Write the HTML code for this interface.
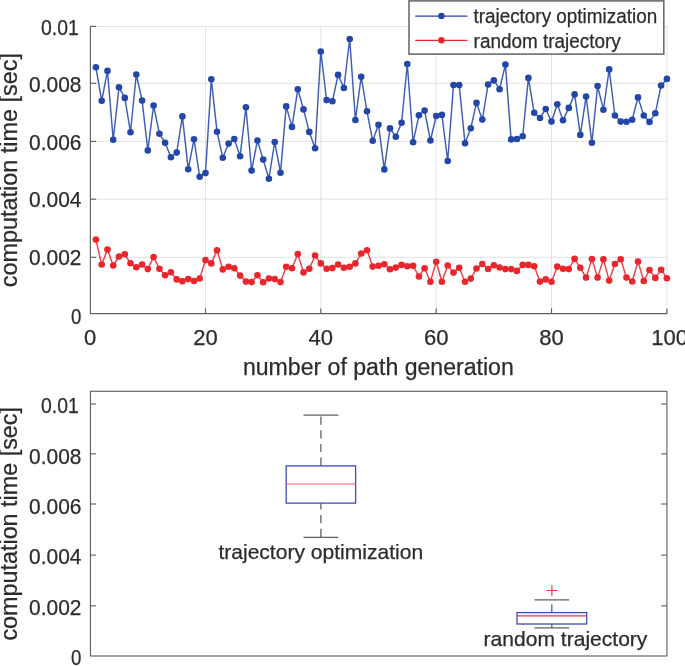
<!DOCTYPE html>
<html><head><meta charset="utf-8"><title>computation time</title>
<style>
html,body{margin:0;padding:0;background:#fff;}
body{width:685px;height:666px;overflow:hidden;}
svg{display:block;}
text{font-family:"Liberation Sans",Arial,Helvetica,sans-serif;fill:#2c2c2c;stroke:#2c2c2c;stroke-width:0.25px;}
</style></head><body>
<svg width="685" height="666" viewBox="0 0 685 666">
<rect width="685" height="666" fill="#fff"/>
<g stroke="#e2e2e2" stroke-width="1"><line x1="90.4" y1="257.3" x2="666.9" y2="257.3"/><line x1="90.4" y1="199.2" x2="666.9" y2="199.2"/><line x1="90.4" y1="141.4" x2="666.9" y2="141.4"/><line x1="90.4" y1="83.3" x2="666.9" y2="83.3"/><line x1="90.4" y1="26.4" x2="666.9" y2="26.4"/><line x1="205.5" y1="26.4" x2="205.5" y2="313.6"/><line x1="320.8" y1="26.4" x2="320.8" y2="313.6"/><line x1="436.2" y1="26.4" x2="436.2" y2="313.6"/><line x1="551.5" y1="26.4" x2="551.5" y2="313.6"/><line x1="666.9" y1="26.4" x2="666.9" y2="313.6"/></g>
<g stroke="#626262" stroke-width="1.15" fill="none"><path d="M90.4 25.9 V313.6 H667.4"/><line x1="90.4" y1="257.3" x2="96.2" y2="257.3"/><line x1="90.4" y1="199.2" x2="96.2" y2="199.2"/><line x1="90.4" y1="141.4" x2="96.2" y2="141.4"/><line x1="90.4" y1="83.3" x2="96.2" y2="83.3"/><line x1="90.4" y1="26.4" x2="96.2" y2="26.4"/><line x1="205.5" y1="313.6" x2="205.5" y2="308.4"/><line x1="320.8" y1="313.6" x2="320.8" y2="308.4"/><line x1="436.2" y1="313.6" x2="436.2" y2="308.4"/><line x1="551.5" y1="313.6" x2="551.5" y2="308.4"/><line x1="666.9" y1="313.6" x2="666.9" y2="308.4"/></g>
<polyline fill="none" stroke="#2347a9" stroke-width="1.45" stroke-opacity="0.88" stroke-linejoin="round" points="95.9,67.3 101.7,100.8 107.5,70.9 113.2,139.8 119.0,87.3 124.8,97.9 130.5,132.3 136.3,74.5 142.1,100.6 147.8,150.4 153.6,105.5 159.4,133.7 165.1,142.7 170.9,157.3 176.7,152.6 182.4,116.4 188.2,169.3 194.0,139.3 199.7,176.7 205.5,173.1 211.3,79.2 217.0,131.7 222.8,157.8 228.6,143.6 234.3,139.1 240.1,156.2 245.9,107.3 251.6,170.6 257.4,140.5 263.2,159.6 268.9,178.7 274.7,142.0 280.5,172.7 286.2,106.4 292.0,126.9 297.8,89.3 303.5,109.4 309.3,131.9 315.1,148.3 320.8,51.5 326.6,100.1 332.4,101.3 338.1,74.9 343.9,88.0 349.7,39.0 355.4,120.0 361.2,76.7 367.0,111.3 372.7,140.8 378.5,124.8 384.3,169.4 390.0,128.4 395.8,136.7 401.6,122.7 407.3,64.0 413.1,142.3 418.9,115.3 424.6,110.6 430.4,140.5 436.2,116.0 441.9,114.9 447.7,161.0 453.5,85.1 459.2,85.1 465.0,143.2 470.8,128.2 476.5,102.9 482.3,119.6 488.1,84.5 493.8,80.4 499.6,89.2 505.4,64.6 511.1,139.4 516.9,139.0 522.7,136.3 528.4,77.9 534.2,112.8 540.0,118.0 545.7,109.0 551.5,121.6 557.3,104.3 563.0,120.3 568.8,107.9 574.6,94.4 580.3,134.9 586.1,96.6 591.9,142.8 597.6,86.0 603.4,109.7 609.2,69.4 614.9,115.5 620.7,121.6 626.5,121.8 632.2,119.8 638.0,97.4 643.8,115.5 649.5,121.9 655.3,113.3 661.1,85.5 666.9,78.9"/>
<g fill="#2347a9"><circle cx="95.9" cy="67.3" r="3.3"/><circle cx="101.7" cy="100.8" r="3.3"/><circle cx="107.5" cy="70.9" r="3.3"/><circle cx="113.2" cy="139.8" r="3.3"/><circle cx="119.0" cy="87.3" r="3.3"/><circle cx="124.8" cy="97.9" r="3.3"/><circle cx="130.5" cy="132.3" r="3.3"/><circle cx="136.3" cy="74.5" r="3.3"/><circle cx="142.1" cy="100.6" r="3.3"/><circle cx="147.8" cy="150.4" r="3.3"/><circle cx="153.6" cy="105.5" r="3.3"/><circle cx="159.4" cy="133.7" r="3.3"/><circle cx="165.1" cy="142.7" r="3.3"/><circle cx="170.9" cy="157.3" r="3.3"/><circle cx="176.7" cy="152.6" r="3.3"/><circle cx="182.4" cy="116.4" r="3.3"/><circle cx="188.2" cy="169.3" r="3.3"/><circle cx="194.0" cy="139.3" r="3.3"/><circle cx="199.7" cy="176.7" r="3.3"/><circle cx="205.5" cy="173.1" r="3.3"/><circle cx="211.3" cy="79.2" r="3.3"/><circle cx="217.0" cy="131.7" r="3.3"/><circle cx="222.8" cy="157.8" r="3.3"/><circle cx="228.6" cy="143.6" r="3.3"/><circle cx="234.3" cy="139.1" r="3.3"/><circle cx="240.1" cy="156.2" r="3.3"/><circle cx="245.9" cy="107.3" r="3.3"/><circle cx="251.6" cy="170.6" r="3.3"/><circle cx="257.4" cy="140.5" r="3.3"/><circle cx="263.2" cy="159.6" r="3.3"/><circle cx="268.9" cy="178.7" r="3.3"/><circle cx="274.7" cy="142.0" r="3.3"/><circle cx="280.5" cy="172.7" r="3.3"/><circle cx="286.2" cy="106.4" r="3.3"/><circle cx="292.0" cy="126.9" r="3.3"/><circle cx="297.8" cy="89.3" r="3.3"/><circle cx="303.5" cy="109.4" r="3.3"/><circle cx="309.3" cy="131.9" r="3.3"/><circle cx="315.1" cy="148.3" r="3.3"/><circle cx="320.8" cy="51.5" r="3.3"/><circle cx="326.6" cy="100.1" r="3.3"/><circle cx="332.4" cy="101.3" r="3.3"/><circle cx="338.1" cy="74.9" r="3.3"/><circle cx="343.9" cy="88.0" r="3.3"/><circle cx="349.7" cy="39.0" r="3.3"/><circle cx="355.4" cy="120.0" r="3.3"/><circle cx="361.2" cy="76.7" r="3.3"/><circle cx="367.0" cy="111.3" r="3.3"/><circle cx="372.7" cy="140.8" r="3.3"/><circle cx="378.5" cy="124.8" r="3.3"/><circle cx="384.3" cy="169.4" r="3.3"/><circle cx="390.0" cy="128.4" r="3.3"/><circle cx="395.8" cy="136.7" r="3.3"/><circle cx="401.6" cy="122.7" r="3.3"/><circle cx="407.3" cy="64.0" r="3.3"/><circle cx="413.1" cy="142.3" r="3.3"/><circle cx="418.9" cy="115.3" r="3.3"/><circle cx="424.6" cy="110.6" r="3.3"/><circle cx="430.4" cy="140.5" r="3.3"/><circle cx="436.2" cy="116.0" r="3.3"/><circle cx="441.9" cy="114.9" r="3.3"/><circle cx="447.7" cy="161.0" r="3.3"/><circle cx="453.5" cy="85.1" r="3.3"/><circle cx="459.2" cy="85.1" r="3.3"/><circle cx="465.0" cy="143.2" r="3.3"/><circle cx="470.8" cy="128.2" r="3.3"/><circle cx="476.5" cy="102.9" r="3.3"/><circle cx="482.3" cy="119.6" r="3.3"/><circle cx="488.1" cy="84.5" r="3.3"/><circle cx="493.8" cy="80.4" r="3.3"/><circle cx="499.6" cy="89.2" r="3.3"/><circle cx="505.4" cy="64.6" r="3.3"/><circle cx="511.1" cy="139.4" r="3.3"/><circle cx="516.9" cy="139.0" r="3.3"/><circle cx="522.7" cy="136.3" r="3.3"/><circle cx="528.4" cy="77.9" r="3.3"/><circle cx="534.2" cy="112.8" r="3.3"/><circle cx="540.0" cy="118.0" r="3.3"/><circle cx="545.7" cy="109.0" r="3.3"/><circle cx="551.5" cy="121.6" r="3.3"/><circle cx="557.3" cy="104.3" r="3.3"/><circle cx="563.0" cy="120.3" r="3.3"/><circle cx="568.8" cy="107.9" r="3.3"/><circle cx="574.6" cy="94.4" r="3.3"/><circle cx="580.3" cy="134.9" r="3.3"/><circle cx="586.1" cy="96.6" r="3.3"/><circle cx="591.9" cy="142.8" r="3.3"/><circle cx="597.6" cy="86.0" r="3.3"/><circle cx="603.4" cy="109.7" r="3.3"/><circle cx="609.2" cy="69.4" r="3.3"/><circle cx="614.9" cy="115.5" r="3.3"/><circle cx="620.7" cy="121.6" r="3.3"/><circle cx="626.5" cy="121.8" r="3.3"/><circle cx="632.2" cy="119.8" r="3.3"/><circle cx="638.0" cy="97.4" r="3.3"/><circle cx="643.8" cy="115.5" r="3.3"/><circle cx="649.5" cy="121.9" r="3.3"/><circle cx="655.3" cy="113.3" r="3.3"/><circle cx="661.1" cy="85.5" r="3.3"/><circle cx="666.9" cy="78.9" r="3.3"/></g>
<polyline fill="none" stroke="#ea252c" stroke-width="1.45" stroke-opacity="0.88" stroke-linejoin="round" points="95.9,239.6 101.7,264.5 107.5,249.5 113.2,265.5 119.0,256.5 124.8,254.3 130.5,263.3 136.3,267.2 142.1,264.5 147.8,269.1 153.6,257.1 159.4,268.8 165.1,275.2 170.9,272.2 176.7,279.4 182.4,281.3 188.2,279.1 194.0,281.0 199.7,278.5 205.5,260.1 211.3,263.4 217.0,250.2 222.8,269.4 228.6,266.7 234.3,268.2 240.1,275.6 245.9,281.6 251.6,282.1 257.4,275.3 263.2,282.2 268.9,278.5 274.7,279.1 280.5,282.1 286.2,266.7 292.0,268.2 297.8,254.0 303.5,272.4 309.3,268.7 315.1,255.5 320.8,263.4 326.6,268.7 332.4,268.1 338.1,264.5 343.9,267.8 349.7,266.7 355.4,263.4 361.2,253.5 367.0,250.2 372.7,266.6 378.5,265.8 384.3,264.3 390.0,269.3 395.8,267.6 401.6,264.9 407.3,266.3 413.1,265.7 418.9,276.5 424.6,268.2 430.4,281.8 436.2,261.8 441.9,281.7 447.7,265.5 453.5,272.6 459.2,267.8 465.0,281.8 470.8,278.6 476.5,268.5 482.3,264.0 488.1,269.0 493.8,265.2 499.6,267.5 505.4,269.1 511.1,269.1 516.9,270.9 522.7,264.9 528.4,264.9 534.2,266.3 540.0,281.6 545.7,279.4 551.5,281.8 557.3,266.6 563.0,268.8 568.8,269.1 574.6,258.9 580.3,267.8 586.1,277.6 591.9,259.1 597.6,277.6 603.4,259.2 609.2,280.6 614.9,264.0 620.7,259.3 626.5,277.6 632.2,281.5 638.0,261.5 643.8,281.0 649.5,270.0 655.3,277.9 661.1,269.7 666.9,278.2"/>
<g fill="#ea252c"><circle cx="95.9" cy="239.6" r="3.3"/><circle cx="101.7" cy="264.5" r="3.3"/><circle cx="107.5" cy="249.5" r="3.3"/><circle cx="113.2" cy="265.5" r="3.3"/><circle cx="119.0" cy="256.5" r="3.3"/><circle cx="124.8" cy="254.3" r="3.3"/><circle cx="130.5" cy="263.3" r="3.3"/><circle cx="136.3" cy="267.2" r="3.3"/><circle cx="142.1" cy="264.5" r="3.3"/><circle cx="147.8" cy="269.1" r="3.3"/><circle cx="153.6" cy="257.1" r="3.3"/><circle cx="159.4" cy="268.8" r="3.3"/><circle cx="165.1" cy="275.2" r="3.3"/><circle cx="170.9" cy="272.2" r="3.3"/><circle cx="176.7" cy="279.4" r="3.3"/><circle cx="182.4" cy="281.3" r="3.3"/><circle cx="188.2" cy="279.1" r="3.3"/><circle cx="194.0" cy="281.0" r="3.3"/><circle cx="199.7" cy="278.5" r="3.3"/><circle cx="205.5" cy="260.1" r="3.3"/><circle cx="211.3" cy="263.4" r="3.3"/><circle cx="217.0" cy="250.2" r="3.3"/><circle cx="222.8" cy="269.4" r="3.3"/><circle cx="228.6" cy="266.7" r="3.3"/><circle cx="234.3" cy="268.2" r="3.3"/><circle cx="240.1" cy="275.6" r="3.3"/><circle cx="245.9" cy="281.6" r="3.3"/><circle cx="251.6" cy="282.1" r="3.3"/><circle cx="257.4" cy="275.3" r="3.3"/><circle cx="263.2" cy="282.2" r="3.3"/><circle cx="268.9" cy="278.5" r="3.3"/><circle cx="274.7" cy="279.1" r="3.3"/><circle cx="280.5" cy="282.1" r="3.3"/><circle cx="286.2" cy="266.7" r="3.3"/><circle cx="292.0" cy="268.2" r="3.3"/><circle cx="297.8" cy="254.0" r="3.3"/><circle cx="303.5" cy="272.4" r="3.3"/><circle cx="309.3" cy="268.7" r="3.3"/><circle cx="315.1" cy="255.5" r="3.3"/><circle cx="320.8" cy="263.4" r="3.3"/><circle cx="326.6" cy="268.7" r="3.3"/><circle cx="332.4" cy="268.1" r="3.3"/><circle cx="338.1" cy="264.5" r="3.3"/><circle cx="343.9" cy="267.8" r="3.3"/><circle cx="349.7" cy="266.7" r="3.3"/><circle cx="355.4" cy="263.4" r="3.3"/><circle cx="361.2" cy="253.5" r="3.3"/><circle cx="367.0" cy="250.2" r="3.3"/><circle cx="372.7" cy="266.6" r="3.3"/><circle cx="378.5" cy="265.8" r="3.3"/><circle cx="384.3" cy="264.3" r="3.3"/><circle cx="390.0" cy="269.3" r="3.3"/><circle cx="395.8" cy="267.6" r="3.3"/><circle cx="401.6" cy="264.9" r="3.3"/><circle cx="407.3" cy="266.3" r="3.3"/><circle cx="413.1" cy="265.7" r="3.3"/><circle cx="418.9" cy="276.5" r="3.3"/><circle cx="424.6" cy="268.2" r="3.3"/><circle cx="430.4" cy="281.8" r="3.3"/><circle cx="436.2" cy="261.8" r="3.3"/><circle cx="441.9" cy="281.7" r="3.3"/><circle cx="447.7" cy="265.5" r="3.3"/><circle cx="453.5" cy="272.6" r="3.3"/><circle cx="459.2" cy="267.8" r="3.3"/><circle cx="465.0" cy="281.8" r="3.3"/><circle cx="470.8" cy="278.6" r="3.3"/><circle cx="476.5" cy="268.5" r="3.3"/><circle cx="482.3" cy="264.0" r="3.3"/><circle cx="488.1" cy="269.0" r="3.3"/><circle cx="493.8" cy="265.2" r="3.3"/><circle cx="499.6" cy="267.5" r="3.3"/><circle cx="505.4" cy="269.1" r="3.3"/><circle cx="511.1" cy="269.1" r="3.3"/><circle cx="516.9" cy="270.9" r="3.3"/><circle cx="522.7" cy="264.9" r="3.3"/><circle cx="528.4" cy="264.9" r="3.3"/><circle cx="534.2" cy="266.3" r="3.3"/><circle cx="540.0" cy="281.6" r="3.3"/><circle cx="545.7" cy="279.4" r="3.3"/><circle cx="551.5" cy="281.8" r="3.3"/><circle cx="557.3" cy="266.6" r="3.3"/><circle cx="563.0" cy="268.8" r="3.3"/><circle cx="568.8" cy="269.1" r="3.3"/><circle cx="574.6" cy="258.9" r="3.3"/><circle cx="580.3" cy="267.8" r="3.3"/><circle cx="586.1" cy="277.6" r="3.3"/><circle cx="591.9" cy="259.1" r="3.3"/><circle cx="597.6" cy="277.6" r="3.3"/><circle cx="603.4" cy="259.2" r="3.3"/><circle cx="609.2" cy="280.6" r="3.3"/><circle cx="614.9" cy="264.0" r="3.3"/><circle cx="620.7" cy="259.3" r="3.3"/><circle cx="626.5" cy="277.6" r="3.3"/><circle cx="632.2" cy="281.5" r="3.3"/><circle cx="638.0" cy="261.5" r="3.3"/><circle cx="643.8" cy="281.0" r="3.3"/><circle cx="649.5" cy="270.0" r="3.3"/><circle cx="655.3" cy="277.9" r="3.3"/><circle cx="661.1" cy="269.7" r="3.3"/><circle cx="666.9" cy="278.2" r="3.3"/></g>
<text x="71.00" y="323.60" font-size="21.3" textLength="10.40" lengthAdjust="spacingAndGlyphs">0</text><text x="29.10" y="265.40" font-size="21.3" textLength="52.31" lengthAdjust="spacingAndGlyphs">0.002</text><text x="29.10" y="207.40" font-size="21.3" textLength="52.31" lengthAdjust="spacingAndGlyphs">0.004</text><text x="29.10" y="150.10" font-size="21.3" textLength="52.31" lengthAdjust="spacingAndGlyphs">0.006</text><text x="29.10" y="92.25" font-size="21.3" textLength="52.31" lengthAdjust="spacingAndGlyphs">0.008</text><text x="41.00" y="34.85" font-size="21.3" textLength="37.71" lengthAdjust="spacingAndGlyphs">0.01</text>
<text x="84.02" y="344.60" font-size="21.3" textLength="12.26" lengthAdjust="spacingAndGlyphs">0</text><text x="193.23" y="344.60" font-size="21.3" textLength="24.52" lengthAdjust="spacingAndGlyphs">20</text><text x="308.57" y="344.60" font-size="21.3" textLength="24.52" lengthAdjust="spacingAndGlyphs">40</text><text x="423.91" y="344.60" font-size="21.3" textLength="24.52" lengthAdjust="spacingAndGlyphs">60</text><text x="539.25" y="344.60" font-size="21.3" textLength="24.52" lengthAdjust="spacingAndGlyphs">80</text><text x="651.20" y="344.60" font-size="21.3" textLength="36.78" lengthAdjust="spacingAndGlyphs">100</text>
<text x="242.90" y="375.10" font-size="23" textLength="270.89" lengthAdjust="spacingAndGlyphs">number of path generation</text>
<text transform="translate(17.30,287.30) rotate(-90)" x="-0.00" y="0" font-size="23" textLength="234.31" lengthAdjust="spacingAndGlyphs">computation time [sec]</text>
<rect x="409.0" y="0.9" width="254.8" height="53.2" fill="#fff" stroke="#6c6c6c" stroke-width="1.6"/>
<line x1="415.2" y1="16.0" x2="467.4" y2="16.0" stroke="#2347a9" stroke-width="1.25"/><circle cx="441.4" cy="16.0" r="3.25" fill="#2347a9"/>
<line x1="415.2" y1="40.3" x2="467.4" y2="40.3" stroke="#ea252c" stroke-width="1.25"/><circle cx="441.4" cy="40.3" r="3.25" fill="#ea252c"/>
<text x="473.40" y="22.90" font-size="19.5" textLength="183.80" lengthAdjust="spacingAndGlyphs">trajectory optimization</text>
<text x="473.60" y="47.70" font-size="19.5" textLength="147.10" lengthAdjust="spacingAndGlyphs">random trajectory</text>
<rect x="90.45" y="391.3" width="576.45" height="264.7" fill="none" stroke="#626262" stroke-width="1.15"/>
<g stroke="#626262" stroke-width="1.15"><line x1="90.5" y1="605.8" x2="96.0" y2="605.8"/><line x1="666.9" y1="605.8" x2="661.1" y2="605.8"/><line x1="90.5" y1="555.1" x2="96.0" y2="555.1"/><line x1="666.9" y1="555.1" x2="661.1" y2="555.1"/><line x1="90.5" y1="504.0" x2="96.0" y2="504.0"/><line x1="666.9" y1="504.0" x2="661.1" y2="504.0"/><line x1="90.5" y1="453.8" x2="96.0" y2="453.8"/><line x1="666.9" y1="453.8" x2="661.1" y2="453.8"/><line x1="90.5" y1="404.0" x2="96.0" y2="404.0"/><line x1="666.9" y1="404.0" x2="661.1" y2="404.0"/></g>
<text x="71.00" y="665.20" font-size="21.3" textLength="10.40" lengthAdjust="spacingAndGlyphs">0</text><text x="29.10" y="614.90" font-size="21.3" textLength="52.31" lengthAdjust="spacingAndGlyphs">0.002</text><text x="29.10" y="563.60" font-size="21.3" textLength="52.31" lengthAdjust="spacingAndGlyphs">0.004</text><text x="29.10" y="513.60" font-size="21.3" textLength="52.31" lengthAdjust="spacingAndGlyphs">0.006</text><text x="29.10" y="463.50" font-size="21.3" textLength="52.31" lengthAdjust="spacingAndGlyphs">0.008</text><text x="41.00" y="412.50" font-size="21.3" textLength="37.71" lengthAdjust="spacingAndGlyphs">0.01</text>
<text transform="translate(17.30,640.60) rotate(-90)" x="-0.00" y="0" font-size="23" textLength="233.61" lengthAdjust="spacingAndGlyphs">computation time [sec]</text>
<g fill="none" stroke-width="1.3"><line x1="320.9" y1="465.8" x2="320.9" y2="415.1" stroke="#606060" stroke-dasharray="8.2 5.5"/><line x1="320.9" y1="503.2" x2="320.9" y2="537.3" stroke="#606060" stroke-dasharray="6.2 5.5 8.4 5.5 8.4"/><line x1="303.5" y1="415.1" x2="338.3" y2="415.1" stroke="#606060"/><line x1="303.5" y1="537.3" x2="338.3" y2="537.3" stroke="#606060"/><rect x="286.2" y="465.9" width="69.4" height="37.2" stroke="#3c4cb4"/><line x1="286.2" y1="484.0" x2="355.6" y2="484.0" stroke="#ec5555" stroke-width="1.1"/><line x1="551.8" y1="612.6" x2="551.8" y2="599.8" stroke="#606060" stroke-dasharray="8.2 5.5"/><line x1="551.8" y1="624.0" x2="551.8" y2="627.8" stroke="#606060"/><line x1="534.5" y1="599.8" x2="569.2" y2="599.8" stroke="#606060"/><line x1="534.5" y1="627.8" x2="569.2" y2="627.8" stroke="#606060"/><rect x="517.0" y="612.6" width="69.7" height="11.4" stroke="#3c4cb4"/><line x1="517.0" y1="615.9" x2="586.7" y2="615.9" stroke="#ea3a40"/><path d="M546.6 590.5H557.3M551.9 585.2V595.8" stroke="#ea3a40" stroke-width="1.2"/></g>
<text x="218.40" y="559.30" font-size="21" textLength="204.70" lengthAdjust="spacingAndGlyphs">trajectory optimization</text>
<text x="483.60" y="646.10" font-size="21" textLength="163.80" lengthAdjust="spacingAndGlyphs">random trajectory</text>
</svg>
</body></html>
